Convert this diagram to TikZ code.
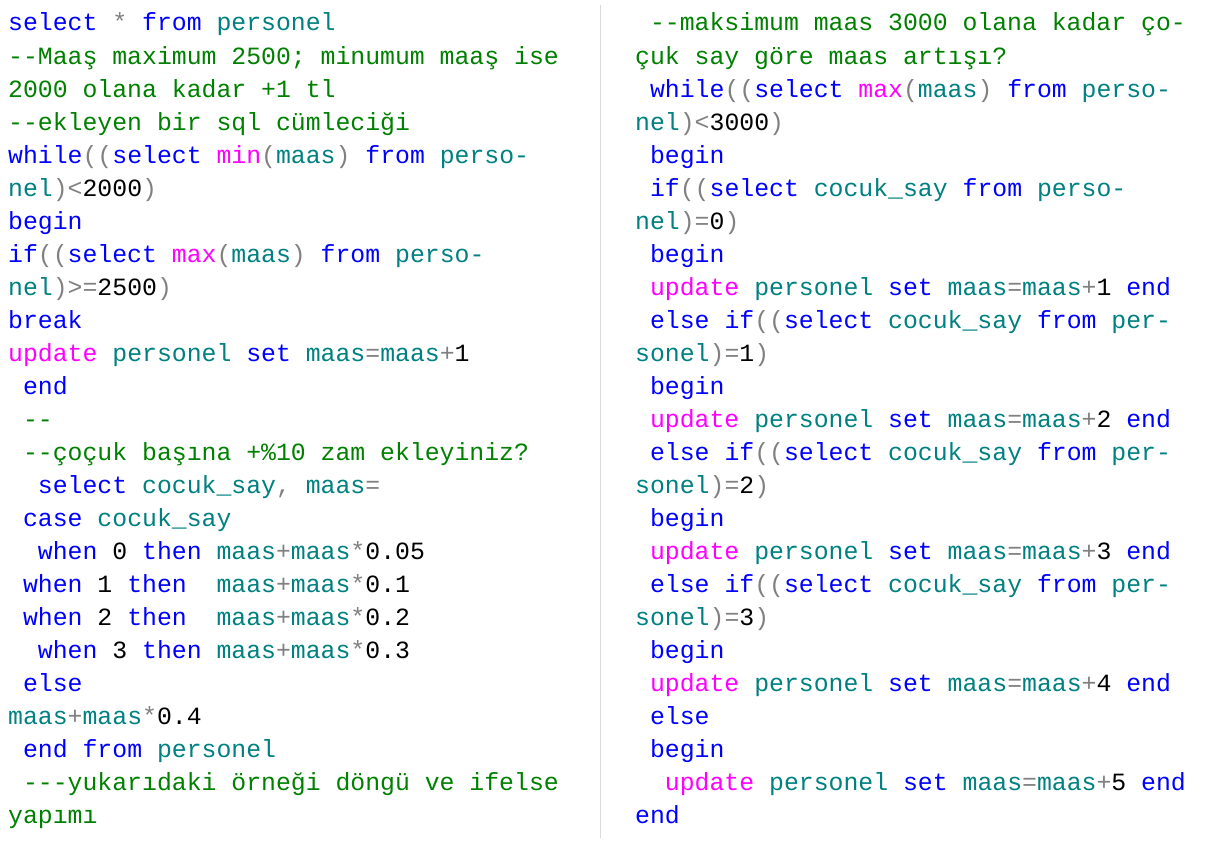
\documentclass[tikz,border=0pt]{standalone}
\usepackage{fontspec}
\setmonofont{Liberation Mono}
\definecolor{kwblue}{rgb}{0,0,1}
\definecolor{idteal}{rgb}{0,0.5,0.5}
\definecolor{fnmag}{rgb}{1,0,1}
\definecolor{cmgreen}{rgb}{0,0.5,0}
\definecolor{opgray}{rgb}{0.5,0.5,0.5}
\newcommand\K[1]{\textcolor{kwblue}{#1}}
\newcommand\T[1]{\textcolor{idteal}{#1}}
\newcommand\M[1]{\textcolor{fnmag}{#1}}
\newcommand\C[1]{\textcolor{cmgreen}{#1}}
\newcommand\G[1]{\textcolor{opgray}{#1}}
\newcommand\upd{\M{update} \T{personel} \K{set} \T{maas}\G{=}\T{maas}\G{+}}
\begin{document}
\begin{tikzpicture}[x=1pt,y=-1pt,
  code/.style={anchor=base west,inner sep=0pt,
    font=\ttfamily\fontsize{24.8}{33}\selectfont}]
  \useasboundingbox (0,0) rectangle (1215,843);
  \draw[gray!30] (600,5) -- (600,838);
  \def\lx{8} \def\rx{635} % column starts
  % left column
  \node[code] (l1) at (\lx,31) {\K{select} \G{*} \K{from} \T{personel}};
  \node[code] (l2) at (\lx,64) {\C{--Maaş maximum 2500; minumum maaş ise}};
  \node[code] (l3) at (\lx,97) {\C{2000 olana kadar +1 tl}};
  \node[code] (l4) at (\lx,130) {\C{--ekleyen bir sql cümleciği}};
  \node[code] (l5) at (\lx,163) {\K{while}\G{((}\K{select} \M{min}\G{(}\T{maas}\G{)} \K{from} \T{perso-}};
  \node[code] (l6) at (\lx,196) {\T{nel}\G{)<}2000\G{)}};
  \node[code] (l7) at (\lx,229) {\K{begin}};
  \node[code] (l8) at (\lx,262) {\K{if}\G{((}\K{select} \M{max}\G{(}\T{maas}\G{)} \K{from} \T{perso-}};
  \node[code] (l9) at (\lx,295) {\T{nel}\G{)>=}2500\G{)}};
  \node[code] (l10) at (\lx,328) {\K{break}};
  \node[code] (l11) at (\lx,361) {\upd 1};
  \node[code] (l12) at (\lx,394) {\ \K{end}};
  \node[code] (l13) at (\lx,427) {\ \C{--}};
  \node[code] (l14) at (\lx,460) {\ \C{--çoçuk başına +\%10 zam ekleyiniz?}};
  \node[code] (l15) at (\lx,493) {\ \ \K{select} \T{cocuk\_say}\G{,} \T{maas}\G{=}};
  \node[code] (l16) at (\lx,526) {\ \K{case} \T{cocuk\_say}};
  \node[code] (l17) at (\lx,559) {\ \ \K{when} 0 \K{then} \T{maas}\G{+}\T{maas}\G{*}0.05};
  \node[code] (l18) at (\lx,592) {\ \K{when} 1 \K{then}\ \ \T{maas}\G{+}\T{maas}\G{*}0.1};
  \node[code] (l19) at (\lx,625) {\ \K{when} 2 \K{then}\ \ \T{maas}\G{+}\T{maas}\G{*}0.2};
  \node[code] (l20) at (\lx,658) {\ \ \K{when} 3 \K{then} \T{maas}\G{+}\T{maas}\G{*}0.3};
  \node[code] (l21) at (\lx,691) {\ \K{else}};
  \node[code] (l22) at (\lx,724) {\T{maas}\G{+}\T{maas}\G{*}0.4};
  \node[code] (l23) at (\lx,757) {\ \K{end} \K{from} \T{personel}};
  \node[code] (l24) at (\lx,790) {\ \C{---yukarıdaki örneği döngü ve ifelse}};
  \node[code] (l25) at (\lx,823) {\C{yapımı}};
  % right column
  \node[code] (r1) at (\rx,31) {\ \C{--maksimum maas 3000 olana kadar ço-}};
  \node[code] (r2) at (\rx,64) {\C{çuk say göre maas artışı?}};
  \node[code] (r3) at (\rx,97) {\ \K{while}\G{((}\K{select} \M{max}\G{(}\T{maas}\G{)} \K{from} \T{perso-}};
  \node[code] (r4) at (\rx,130) {\T{nel}\G{)<}3000\G{)}};
  \node[code] (r5) at (\rx,163) {\ \K{begin}};
  \node[code] (r6) at (\rx,196) {\ \K{if}\G{((}\K{select} \T{cocuk\_say} \K{from} \T{perso-}};
  \node[code] (r7) at (\rx,229) {\T{nel}\G{)=}0\G{)}};
  \node[code] (r8) at (\rx,262) {\ \K{begin}};
  \node[code] (r9) at (\rx,295) {\ \upd 1 \K{end}};
  \node[code] (r10) at (\rx,328) {\ \K{else} \K{if}\G{((}\K{select} \T{cocuk\_say} \K{from} \T{per-}};
  \node[code] (r11) at (\rx,361) {\T{sonel}\G{)=}1\G{)}};
  \node[code] (r12) at (\rx,394) {\ \K{begin}};
  \node[code] (r13) at (\rx,427) {\ \upd 2 \K{end}};
  \node[code] (r14) at (\rx,460) {\ \K{else} \K{if}\G{((}\K{select} \T{cocuk\_say} \K{from} \T{per-}};
  \node[code] (r15) at (\rx,493) {\T{sonel}\G{)=}2\G{)}};
  \node[code] (r16) at (\rx,526) {\ \K{begin}};
  \node[code] (r17) at (\rx,559) {\ \upd 3 \K{end}};
  \node[code] (r18) at (\rx,592) {\ \K{else} \K{if}\G{((}\K{select} \T{cocuk\_say} \K{from} \T{per-}};
  \node[code] (r19) at (\rx,625) {\T{sonel}\G{)=}3\G{)}};
  \node[code] (r20) at (\rx,658) {\ \K{begin}};
  \node[code] (r21) at (\rx,691) {\ \upd 4 \K{end}};
  \node[code] (r22) at (\rx,724) {\ \K{else}};
  \node[code] (r23) at (\rx,757) {\ \K{begin}};
  \node[code] (r24) at (\rx,790) {\ \ \upd 5 \K{end}};
  \node[code] (r25) at (\rx,823) {\K{end}};
\end{tikzpicture}
\end{document}
